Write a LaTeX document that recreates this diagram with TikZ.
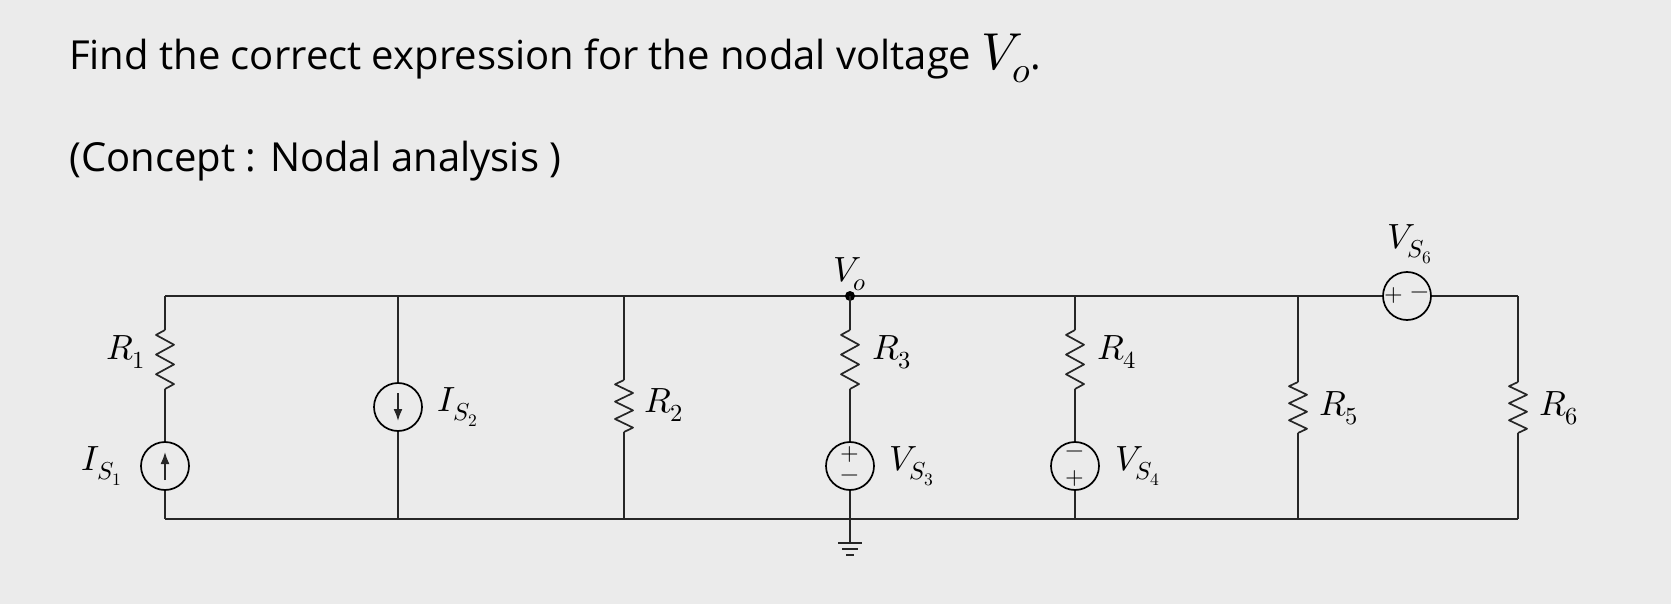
\documentclass[tikz,border=0pt]{standalone}
\usetikzlibrary{arrows.meta}
\usepackage{fontspec}
\setmainfont{Open Sans}
\usepackage{unicode-math}
\setmathfont{Latin Modern Math}
\begin{document}
\begin{tikzpicture}[x=1pt,y=-1pt,
  wire/.style={line width=1.7pt,black!85},
  src/.style={circle,draw,line width=1.7pt,minimum size=48pt,inner sep=0pt,fill=none},
  lab/.style={font=\fontsize{35}{37}\selectfont,inner sep=1pt},
  sgn/.style={font=\fontsize{24}{26}\selectfont,inner sep=0pt},
  ttl/.style={font=\fontsize{40}{44}\selectfont,anchor=base west,inner sep=0pt}]
\fill[black!8] (0,0) rectangle (1671,604);
\useasboundingbox (0,0) rectangle (1671,604);
\newcommand\myres[3]{% x, y1, y2
  \draw[wire,line join=round] (#1,#2)
    \foreach \k in {1,...,6}{ -- ({#1+ifthenelse(mod(\k,2)==1,-9,9)},{#2+(\k-0.5)*(#3-#2)/6}) } -- (#1,#3);}
\node[ttl] (t1) at (69,70) {Find the correct expression for the nodal voltage {\fontsize{52}{52}\selectfont$V_o$}.};
\node[ttl] (t2) at (69,172) {(Concept : Nodal analysis )};
% coordinates
\foreach \n/\x in {a/165,b/398,c/624,d/850,e/1075,f/1298,g/1518}{
  \coordinate (\n t) at (\x,296); \coordinate (\n b) at (\x,519);}
% top and bottom wires
\node[src] (v6) at (1407,296) {};
\draw[wire] (at) -- (v6.west); \draw[wire] (v6.east) -- (gt);
\draw[wire] (ab) -- (gb);
% branch a: R1 + IS1
\node[src] (i1) at (165,466) {};
\draw[wire,-{Latex[length=12pt,width=9pt]}] (165,480) -- (165,452);
\draw[wire] (at) -- (165,330); \myres{165}{330}{389}
\draw[wire] (165,389) -- (i1.north); \draw[wire] (i1.south) -- (ab);
\node[lab] (lr1) at (126,352) {$R_1$};
\node[lab] (li1) at (102,466) {$I_{S_1}$};
% branch b: IS2
\node[src] (i2) at (398,407) {};
\draw[wire,-{Latex[length=12pt,width=9pt]}] (398,393) -- (398,421);
\draw[wire] (bt) -- (i2.north); \draw[wire] (i2.south) -- (bb);
\node[lab] (li2) at (458,407) {$I_{S_2}$};
% branch c: R2
\draw[wire] (ct) -- (624,380); \myres{624}{380}{432} \draw[wire] (624,432) -- (cb);
\node[lab] (lr2) at (664,405) {$R_2$};
% branch d: R3 + VS3 + ground
\fill (dt) circle (5pt);
\node[lab] (lvo) at (850,274) {$V_o$};
\draw[wire] (dt) -- (850,330); \myres{850}{330}{389}
\node[src] (v3) at (850,466) {};
\draw[wire] (850,389) -- (v3.north); \draw[wire] (v3.south) -- (db);
\node[sgn] (p3) at (850,454) {$+$};
\node[sgn] (m3) at (850,478) {$-$};
\node[lab] (lr3) at (892,352) {$R_3$};
\node[lab] (lv3) at (912,466) {$V_{S_3}$};
\coordinate (gnd) at (850,543);
\draw[wire] (db) -- (gnd);
\draw[wire] (838,543) -- (862,543); \draw[wire] (842,549) -- (858,549); \draw[wire] (846,555) -- (854,555);
% branch e: R4 + VS4
\draw[wire] (et) -- (1075,330); \myres{1075}{330}{389}
\node[src] (v4) at (1075,466) {};
\draw[wire] (1075,389) -- (v4.north); \draw[wire] (v4.south) -- (eb);
\node[sgn] (m4) at (1075,454) {$-$};
\node[sgn] (p4) at (1075,478) {$+$};
\node[lab] (lr4) at (1117,352) {$R_4$};
\node[lab] (lv4) at (1138,466) {$V_{S_4}$};
% branch f: R5
\draw[wire] (ft) -- (1298,382); \myres{1298}{382}{433} \draw[wire] (1298,433) -- (fb);
\node[lab] (lr5) at (1339,408) {$R_5$};
% branch g: R6
\draw[wire] (gt) -- (1518,382); \myres{1518}{382}{433} \draw[wire] (1518,433) -- (gb);
\node[lab] (lr6) at (1559,408) {$R_6$};
% VS6 signs
\node[sgn] (p6) at (1394,295) {$+$};
\node[sgn] (m6) at (1420,295) {$-$};
\node[lab] (lv6) at (1410,244) {$V_{S_6}$};
\end{tikzpicture}
\end{document}
